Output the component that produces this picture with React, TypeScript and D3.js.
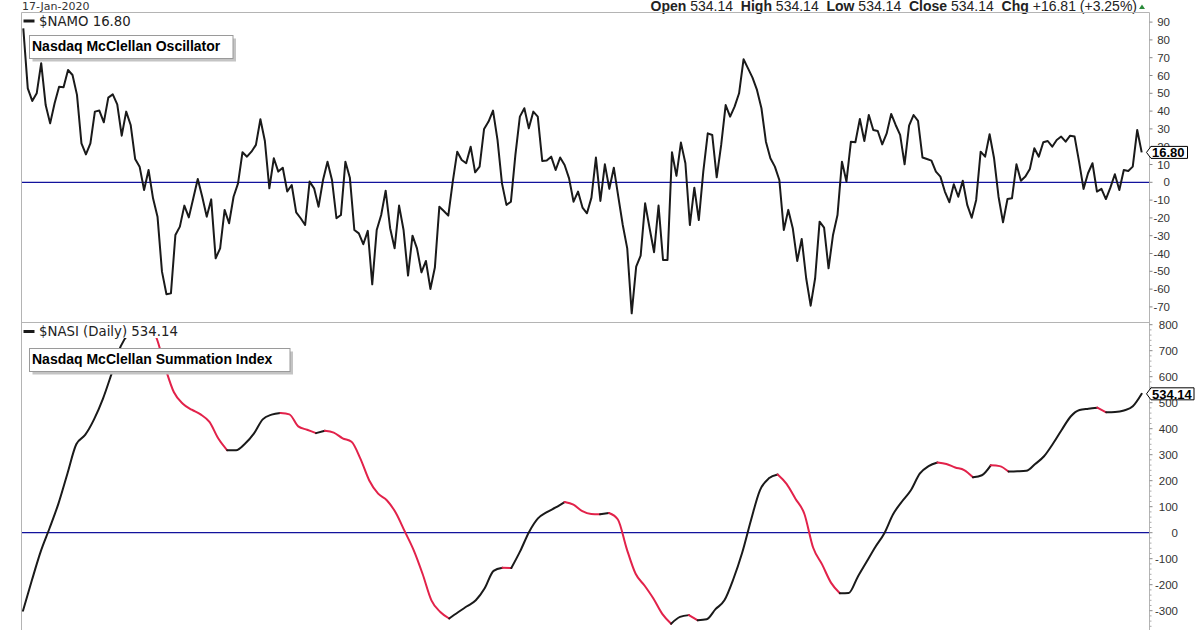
import React from 'react';
import * as d3 from 'd3';

// ---------- data ----------
const dateLabel = '17-Jan-2020';
const namoLegend = '$NAMO 16.80';
const nasiLegend = '$NASI (Daily) 534.14';
const namoTitle = 'Nasdaq McClellan Oscillator';
const nasiTitle = 'Nasdaq McClellan Summation Index';
const quoteLabels = ['Open', 'High', 'Low', 'Close', 'Chg'];
const quoteValues = ['534.14', '534.14', '534.14', '534.14', '+16.81 (+3.25%)'];

const namoTicks = [90, 80, 70, 60, 50, 40, 30, 20, 10, 0, -10, -20, -30, -40, -50, -60, -70];
const nasiTicks = [800, 700, 600, 500, 400, 300, 200, 100, 0, -100, -200, -300];

const namoLast = 16.8;
const nasiLast = 534.14;

// McClellan Oscillator, daily
const namoValues = [
  86.5, 52.8, 45.7, 50.0, 66.9, 43.4, 33.1, 44.4, 53.7, 53.4,
  63.1, 60.3, 49.1, 21.9, 15.7, 21.9, 39.7, 40.3, 33.7, 47.6,
  49.4, 43.8, 26.2, 39.7, 32.2, 13.1, 8.8, -4.3, 6.9, -9.0,
  -19.3, -50.2, -62.9, -62.4, -29.6, -24.9, -13.1, -19.7, -9.0, 1.9,
  -8.1, -19.3, -9.6, -42.7, -37.1, -15.5, -23.0, -8.1, -0.6, 16.9,
  14.4, 17.2, 21.0, 35.4, 23.2, -3.4, 13.5, 6.0, 8.2, -5.2,
  -1.5, -16.9, -20.2,
  -24.0, 0.4, -3.4, -13.7, 1.3, 11.6, 1.3, -20.2, -18.4, 11.6,
  2.6, -26.8, -28.7, -34.8, -27.3, -57.3, -26.8, -18.4, -4.7, -25.8,
  -37.1, -13.1, -26.8, -52.4, -30.0, -37.1, -50.6, -44.2, -59.9, -47.9,
  -13.7, -16.1, -18.7, 0.4, 17.2, 12.5, 10.7, 20.0, 5.6, 8.8,
  30.0, 34.1, 40.3, 23.8, -0.6, -12.7, -10.9, 15.4, 36.9, 41.6,
  30.3, 39.7, 36.9, 12.0, 12.2, 14.4, 6.9, 13.9, 9.7, 2.2,
  -10.9, -5.2, -14.2, -17.4, -8.6, 13.9, -10.5, 10.1, -3.7, 8.2,
  -8.1, -24.0, -37.1, -73.6, -47.4, -41.2, -11.8, -25.8, -39.3, -13.1,
  -43.6, -43.6, 16.9, 3.6, 22.3, 10.7, -24.0, -3.0, -21.2, 6.0,
  27.5, 26.6, 2.8, 21.0, 43.4, 36.9, 42.5, 50.0, 69.1, 64.0,
  58.8, 51.9, 41.6, 22.8, 13.5, 8.8, 1.3, -26.8, -15.5, -25.8,
  -44.2, -31.8, -53.9, -69.3, -53.9, -22.1, -25.5, -48.3, -29.6, -18.4,
  11.6, 0.4, 22.8, 22.5, 35.6,
  23.2, 37.8, 29.4, 28.8, 21.3, 27.5, 38.4, 32.2, 26.6, 10.1,
  31.8, 37.8, 34.5, 13.9, 13.1, 12.2, 6.0, 3.2, -5.2, -11.2,
  -1.1, -8.1, 0.9, -12.7, -19.9, -9.9, 17.2, 14.4, 27.0, 13.5,
  -8.1, -22.5, -9.4, -9.0, 10.1, 0.9, 3.2, 7.5, 19.1, 14.4,
  22.5, 23.2, 20.0, 23.8, 25.7, 22.8, 26.2, 25.7, 11.6, -3.7,
  5.1, 10.7, -5.2, -3.7, -9.4, -3.0, 4.5, -4.3, 6.9, 6.4,
  8.8, 29.4, 16.8,
];

// McClellan Summation Index, read every second session
const nasiValues = [
  -300, -183, -72, 18, 113, 227, 340, 376, 436, 515,
  614, 717, 769, 790, 795, 752, 637, 540, 496, 473,
  455, 426, 362, 317, 317, 342, 381, 436, 454, 460,
  455, 409,
  396, 383, 392, 385, 363, 350, 285, 201, 150, 124,
  76, 5, -67, -158, -260, -305, -330, -306, -283, -260,
  -214, -147, -135, -136, -71, 3, 55, 79, 97, 118,
  108, 83,
  72, 71, 76, 51, -62, -158, -203, -253, -312, -350,
  -324, -317, -337, -333, -294, -260, -179, -77, 49, 163,
  209, 224, 188, 131, 73, -58, -122, -192, -233, -232,
  -171,
  -113, -55, -3, 71, 120, 163, 227, 256, 270, 264,
  251, 241, 213, 221, 259, 256, 235, 236, 238, 264,
  294, 342, 396, 447, 472, 477, 481, 463, 464, 470,
  486, 534.14,
];

// ---------- styling ----------
const SANS = '"Liberation Sans", Arial, sans-serif';
const VERD = '"DejaVu Sans", Verdana, sans-serif';
const FRAME = '#b4b4b4';
const ZERO = '#12129c';
const RED = '#e2224a';
const INK = '#1a1a1a';

const LEFT = 21.5;
const RIGHT = 1149.5;
const TOP = 12.5;
const MID = 322.5;
const BOTTOM = 640;

export default function App() {
  const xNamo = d3.scaleLinear().domain([0, namoValues.length - 1]).range([23.3, 1141.7]);
  const xNasi = d3.scaleLinear().domain([0, nasiValues.length - 1]).range([23, 1141.7]);
  const yNamo = d3.scaleLinear().domain([-70, 90]).range([306.9, 22.1]);
  const yNasi = d3.scaleLinear().domain([-300, 800]).range([610.7, 324.7]);

  const namoLine = d3
    .line<number>()
    .x((_, i) => xNamo(i))
    .y((d) => yNamo(d))(namoValues) as string;

  // split summation index into rising (black) / falling (red) runs
  const runs: { color: string; idx: number[] }[] = [];
  for (let i = 1; i < nasiValues.length; i++) {
    const c = nasiValues[i] < nasiValues[i - 1] ? RED : INK;
    const last = runs[runs.length - 1];
    if (last && last.color === c) last.idx.push(i);
    else runs.push({ color: c, idx: [i - 1, i] });
  }
  const nasiLine = d3
    .line<number>()
    .x((i) => xNasi(i))
    .y((i) => yNasi(nasiValues[i]))
    .curve(d3.curveMonotoneX);

  const nasiMinor = d3.range(-360, 820, 20).filter((v) => v % 100 !== 0);

  const tagPath = (y: number, right: number) =>
    `M1146.5,${y} L1151,${y - 6} L${right},${y - 6} L${right},${y + 6} L1151,${y + 6} Z`;

  const yNamoLast = yNamo(namoLast);
  const yNasiLast = yNasi(nasiLast);

  return (
    <svg
      width={1200}
      height={630}
      viewBox="0 0 1200 630"
      style={{ position: 'absolute', left: 0, top: 0, background: '#fff', display: 'block' }}
    >
      <defs>
        <clipPath id="clipTop">
          <rect x={LEFT} y={TOP} width={RIGHT - LEFT} height={MID - TOP} />
        </clipPath>
        <clipPath id="clipBot">
          <rect x={LEFT} y={MID} width={RIGHT - LEFT} height={BOTTOM - MID} />
        </clipPath>
      </defs>
      <rect x={0} y={0} width={1200} height={630} fill="#fff" />

      {/* header */}
      <text x={22} y={10} fontFamily={VERD} fontSize={11} fill="#333">
        {dateLabel}
      </text>
      <text
        x={1137}
        y={11}
        textAnchor="end"
        fontFamily={SANS}
        fontSize={14}
        fill="#222"
        style={{ whiteSpace: 'pre' }}
      >
        {quoteLabels.map((lab, i) => (
          <React.Fragment key={lab}>
            <tspan fontWeight="bold">{lab}</tspan>
            <tspan>{' ' + quoteValues[i] + (i < quoteLabels.length - 1 ? '  ' : '')}</tspan>
          </React.Fragment>
        ))}
      </text>
      <path d="M1139,9 L1145,9 L1142,4.6 Z" fill="#2a8a3a" />

      {/* zero lines */}
      <line x1={LEFT} x2={RIGHT} y1={yNamo(0)} y2={yNamo(0)} stroke={ZERO} strokeWidth={1.2} />
      <line x1={LEFT} x2={RIGHT} y1={yNasi(0)} y2={yNasi(0)} stroke={ZERO} strokeWidth={1.2} />

      {/* series */}
      <g clipPath="url(#clipTop)">
        <path d={namoLine} fill="none" stroke={INK} strokeWidth={2} strokeLinejoin="round" />
      </g>
      <g clipPath="url(#clipBot)">
        {runs.map((r, i) => (
          <path
            key={i}
            d={nasiLine(r.idx) as string}
            fill="none"
            stroke={r.color}
            strokeWidth={2}
            strokeLinejoin="round"
            strokeLinecap="round"
          />
        ))}
      </g>

      {/* frame */}
      <line x1={LEFT} x2={RIGHT} y1={TOP} y2={TOP} stroke={FRAME} />
      <line x1={LEFT} x2={RIGHT} y1={MID} y2={MID} stroke={FRAME} />
      <line x1={LEFT} x2={LEFT} y1={TOP} y2={BOTTOM} stroke={FRAME} />
      <line x1={RIGHT} x2={RIGHT} y1={TOP} y2={BOTTOM} stroke={FRAME} />

      {/* right axes */}
      {namoTicks.map((t) => (
        <g key={'nt' + t}>
          <line x1={RIGHT} x2={RIGHT + 3} y1={yNamo(t)} y2={yNamo(t)} stroke="#888" />
          <text
            x={1170}
            y={yNamo(t)}
            dy="0.36em"
            textAnchor="end"
            fontFamily={SANS}
            fontSize={11.5}
            fill="#333"
          >
            {t}
          </text>
        </g>
      ))}
      {nasiMinor.map((t) =>
        yNasi(t) > MID && yNasi(t) < 630 ? (
          <line key={'nm' + t} x1={RIGHT} x2={RIGHT + 2} y1={yNasi(t)} y2={yNasi(t)} stroke="#aaa" />
        ) : null
      )}
      {nasiTicks.map((t) => (
        <g key={'st' + t}>
          <line x1={RIGHT} x2={RIGHT + 3} y1={yNasi(t)} y2={yNasi(t)} stroke="#888" />
          <text
            x={1178}
            y={yNasi(t)}
            dy="0.36em"
            textAnchor="end"
            fontFamily={SANS}
            fontSize={11.5}
            fill="#333"
          >
            {t}
          </text>
        </g>
      ))}

      {/* last value tags */}
      <path d={tagPath(yNamoLast, 1187.5)} fill="#fff" stroke="#000" strokeWidth={1} />
      <text x={1152} y={yNamoLast} dy="0.36em" fontFamily={SANS} fontWeight="bold" fontSize={13} fill="#000">
        {namoLast.toFixed(2)}
      </text>
      <path d={tagPath(yNasiLast, 1194)} fill="#fff" stroke="#000" strokeWidth={1} />
      <text x={1152} y={yNasiLast} dy="0.36em" fontFamily={SANS} fontWeight="bold" fontSize={13} fill="#000">
        {nasiLast.toFixed(2)}
      </text>

      {/* legends */}
      <line x1={23.5} x2={34.5} y1={21} y2={21} stroke={INK} strokeWidth={3} />
      <text x={39} y={26} fontFamily={VERD} fontSize={13.3} fill="#222">
        {namoLegend}
      </text>
      <rect x={22} y={323} width={166} height={15} fill="#fff" />
      <line x1={23.5} x2={34.5} y1={331.5} y2={331.5} stroke={INK} strokeWidth={3} />
      <text x={39} y={336} fontFamily={VERD} fontSize={13.3} fill="#222">
        {nasiLegend}
      </text>

      {/* titles */}
      <rect x={32.5} y={38.5} width={203.5} height={23} fill="#c4c4c4" />
      <rect x={29.5} y={35.5} width={203.5} height={23} fill="#fff" stroke="#9a9a9a" />
      <text x={32} y={51} fontFamily={SANS} fontWeight="bold" fontSize={14} fill="#000">
        {namoTitle}
      </text>
      <rect x={32.5} y={351.5} width={260.5} height={23} fill="#c4c4c4" />
      <rect x={29.5} y={348.5} width={260.5} height={23} fill="#fff" stroke="#9a9a9a" />
      <text x={32} y={364} fontFamily={SANS} fontWeight="bold" fontSize={14} fill="#000">
        {nasiTitle}
      </text>
    </svg>
  );
}
